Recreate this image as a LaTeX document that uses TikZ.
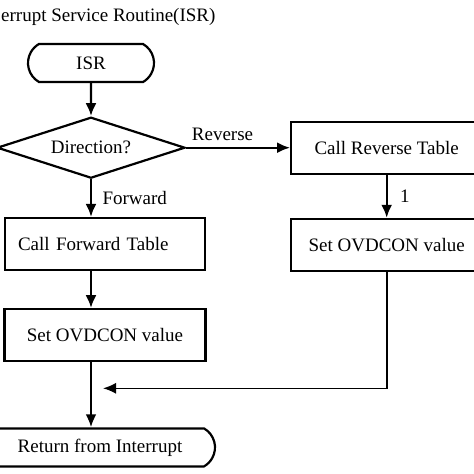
\documentclass[tikz,border=0pt]{standalone}
\usepackage{fontspec}
\setmainfont{Liberation Serif}
\usetikzlibrary{shapes.geometric,shapes.misc,arrows.meta,positioning,calc}
\tikzset{
  box-style/.style = {
    rectangle, draw, line width=2.2pt,
    minimum height=52pt,
    inner sep=0pt
  },
  term-style/.style = {
    rounded rectangle, rounded rectangle arc length=120,
    draw, line width=2.2pt,
    minimum height=38pt,
    minimum width=#1,
    inner sep=0pt
  },
  dec-style/.style = {
    diamond, aspect=3, draw, line width=2.2pt,
    minimum width=188pt,
    minimum height=61pt,
    inner sep=0pt
  },
  back-style/.style = {
    draw, -{Latex[length=13pt,width=11pt]}, line width=1.6pt
  },
  every edge/.style = {draw, -{Latex[length=13pt,width=11pt]}, line width=2.4pt}
}

\begin{document}
\begin{tikzpicture}[x=1pt,y=-1pt,font=\fontsize{19}{22}\selectfont]
    \useasboundingbox (0,0) rectangle (474,474);
    \clip (0,0) rectangle (474,474);

    %%% title
    \node[anchor=west,inner sep=0pt] (title) at (1,17) {errupt Service Routine(ISR)};

    %%% left column
    \node[term-style=126pt] (isr) at (91,63) {ISR};
    \node[dec-style,below=33pt of isr] (dir) {Direction?};
    \node[box-style,minimum width=200pt,text width=174pt,align=left] (fwd) at (105,244) {Call Forward Table};
    \node[box-style,minimum width=201pt,below=37pt of fwd] (setL) {Set OVDCON value};
    \node[term-style=230pt,below=65pt of setL,xshift=-5pt] (ret) {Return from Interrupt};

    %%% right column
    \node[box-style,minimum width=191pt,right=104pt of dir] (rev) {Call Reverse Table};
    \node[box-style,minimum width=191pt,below=43pt of rev] (setR) {Set OVDCON value};
    \coordinate (join) at ($(setL.south -| dir)+(12,26)$);

    %%% arrows
    \path (isr) edge (dir);
    \path (dir) edge node[above=2pt,pos=0.35] {Reverse} (rev);
    \path (dir.south) edge node[right=7pt] {Forward} (dir.south |- fwd.north);
    \path (fwd.south -| dir) edge (setL.north -| dir);
    \path (setL.south -| dir) edge (ret.north -| dir);
    \path (rev) edge node[right=9pt] {1} (setR);
    \draw[back-style] (setR.south) |- (join);
\end{tikzpicture}
\end{document}
